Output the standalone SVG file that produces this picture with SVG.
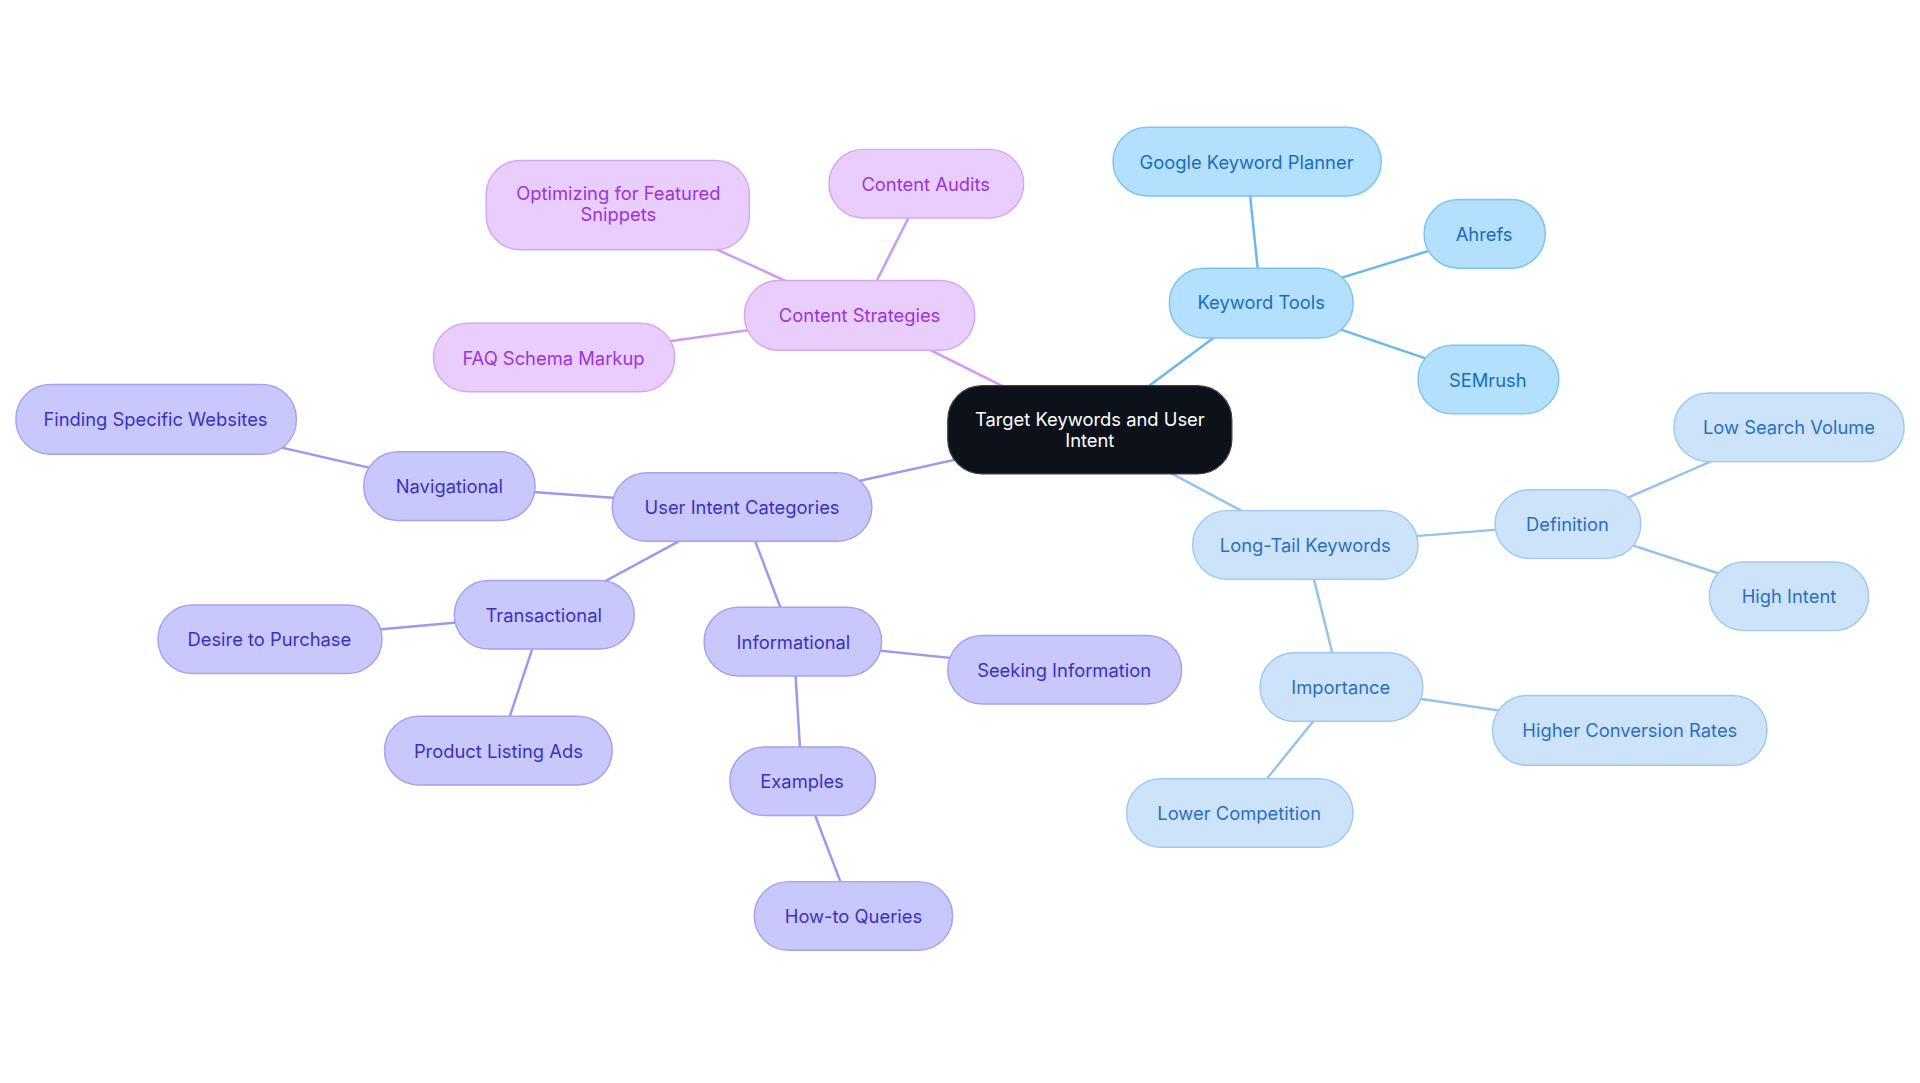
<svg xmlns="http://www.w3.org/2000/svg" width="1920" height="1083" viewBox="0 0 1920 1083">
<style>
text{font-family:Inter,"Noto Sans",sans-serif;font-size:15px;text-anchor:middle;dominant-baseline:central}
.c rect{fill:#0d121a;stroke:#3a3f47;stroke-width:1}.c text{fill:#fff}
.p rect{fill:#e9cdfc;stroke:#d6a6f5;stroke-width:1.2}.p text{fill:#9a35d8}
.b rect{fill:#b3e0fd;stroke:#7cc4f5;stroke-width:1.2}.b text{fill:#1b6db8}
.l rect{fill:#cde3fa;stroke:#9fc9f1;stroke-width:1.2}.l text{fill:#2b6fc2}
.i rect{fill:#c8c8fc;stroke:#a3a3f2;stroke-width:1.2}.i text{fill:#3a32bf}
#edges line{stroke-width:2;fill:none}
.ep{stroke:#cf98f3}.eb{stroke:#6ab8ee}.el{stroke:#95c2ee}.ei{stroke:#9999f0}
</style>
<rect width="1920" height="1083" fill="#fff"/>
<g transform="scale(1.2245)">
<g id="edges">
<line class="ep" x1="890" y1="351" x2="702" y2="257"/>
<line class="ep" x1="702" y1="257" x2="505" y2="167"/>
<line class="ep" x1="702" y1="257" x2="756" y2="150"/>
<line class="ep" x1="702" y1="257" x2="452" y2="292"/>
<line class="eb" x1="890" y1="351" x2="1030" y2="247"/>
<line class="eb" x1="1030" y1="247" x2="1018" y2="132"/>
<line class="eb" x1="1030" y1="247" x2="1212" y2="191"/>
<line class="eb" x1="1030" y1="247" x2="1215" y2="310"/>
<line class="el" x1="890" y1="351" x2="1066" y2="445"/>
<line class="el" x1="1066" y1="445" x2="1280" y2="428"/>
<line class="el" x1="1280" y1="428" x2="1461" y2="349"/>
<line class="el" x1="1280" y1="428" x2="1461" y2="487"/>
<line class="el" x1="1066" y1="445" x2="1095" y2="561"/>
<line class="el" x1="1095" y1="561" x2="1331" y2="596"/>
<line class="el" x1="1095" y1="561" x2="1012" y2="664"/>
<line class="ei" x1="890" y1="351" x2="606" y2="414"/>
<line class="ei" x1="606" y1="414" x2="367" y2="397"/>
<line class="ei" x1="367" y1="397" x2="127" y2="342"/>
<line class="ei" x1="606" y1="414" x2="444" y2="502"/>
<line class="ei" x1="444" y1="502" x2="220" y2="522"/>
<line class="ei" x1="444" y1="502" x2="407" y2="613"/>
<line class="ei" x1="606" y1="414" x2="648" y2="524"/>
<line class="ei" x1="648" y1="524" x2="869" y2="547"/>
<line class="ei" x1="648" y1="524" x2="655" y2="638"/>
<line class="ei" x1="655" y1="638" x2="697" y2="748"/>
</g>
<g id="n-center" class="c"><rect x="774" y="315" width="232" height="72" rx="28"/><text x="890" y="342">Target Keywords and User</text><text x="890" y="359">Intent</text></g>
<g id="n-cs" class="p"><rect x="608" y="229" width="188" height="57" rx="28"/><text x="702" y="257">Content Strategies</text></g>
<g id="n-ofs" class="p"><rect x="397" y="131" width="215" height="73" rx="28"/><text x="505" y="158">Optimizing for Featured</text><text x="505" y="175">Snippets</text></g>
<g id="n-ca" class="p"><rect x="677" y="122" width="159" height="56" rx="28"/><text x="756" y="150">Content Audits</text></g>
<g id="n-faq" class="p"><rect x="354" y="264" width="197" height="56" rx="28"/><text x="452" y="292">FAQ Schema Markup</text></g>
<g id="n-kt" class="b"><rect x="955" y="219" width="150" height="57" rx="28"/><text x="1030" y="247">Keyword Tools</text></g>
<g id="n-gkp" class="b"><rect x="909" y="104" width="219" height="56" rx="28"/><text x="1018" y="132">Google Keyword Planner</text></g>
<g id="n-ahrefs" class="b"><rect x="1163" y="163" width="99" height="56" rx="28"/><text x="1212" y="191">Ahrefs</text></g>
<g id="n-semrush" class="b"><rect x="1158" y="282" width="115" height="56" rx="28"/><text x="1215" y="310">SEMrush</text></g>
<g id="n-ltk" class="l"><rect x="974" y="417" width="184" height="56" rx="28"/><text x="1066" y="445">Long-Tail Keywords</text></g>
<g id="n-def" class="l"><rect x="1221" y="400" width="119" height="56" rx="28"/><text x="1280" y="428">Definition</text></g>
<g id="n-lsv" class="l"><rect x="1367" y="321" width="188" height="56" rx="28"/><text x="1461" y="349">Low Search Volume</text></g>
<g id="n-hi" class="l"><rect x="1396" y="459" width="130" height="56" rx="28"/><text x="1461" y="487">High Intent</text></g>
<g id="n-imp" class="l"><rect x="1029" y="533" width="133" height="56" rx="28"/><text x="1095" y="561">Importance</text></g>
<g id="n-hcr" class="l"><rect x="1219" y="568" width="224" height="57" rx="28"/><text x="1331" y="596">Higher Conversion Rates</text></g>
<g id="n-lc" class="l"><rect x="920" y="636" width="185" height="56" rx="28"/><text x="1012" y="664">Lower Competition</text></g>
<g id="n-uic" class="i"><rect x="500" y="386" width="212" height="56" rx="28"/><text x="606" y="414">User Intent Categories</text></g>
<g id="n-nav" class="i"><rect x="297" y="369" width="140" height="56" rx="28"/><text x="367" y="397">Navigational</text></g>
<g id="n-fsw" class="i"><rect x="13" y="314" width="229" height="57" rx="28"/><text x="127" y="342">Finding Specific Websites</text></g>
<g id="n-tr" class="i"><rect x="371" y="474" width="147" height="56" rx="28"/><text x="444" y="502">Transactional</text></g>
<g id="n-dtp" class="i"><rect x="129" y="494" width="183" height="56" rx="28"/><text x="220" y="522">Desire to Purchase</text></g>
<g id="n-pla" class="i"><rect x="314" y="585" width="186" height="56" rx="28"/><text x="407" y="613">Product Listing Ads</text></g>
<g id="n-inf" class="i"><rect x="575" y="496" width="145" height="56" rx="28"/><text x="648" y="524">Informational</text></g>
<g id="n-si" class="i"><rect x="774" y="519" width="191" height="56" rx="28"/><text x="869" y="547">Seeking Information</text></g>
<g id="n-ex" class="i"><rect x="596" y="610" width="119" height="56" rx="28"/><text x="655" y="638">Examples</text></g>
<g id="n-htq" class="i"><rect x="616" y="720" width="162" height="56" rx="28"/><text x="697" y="748">How-to Queries</text></g>
</g>
</svg>
